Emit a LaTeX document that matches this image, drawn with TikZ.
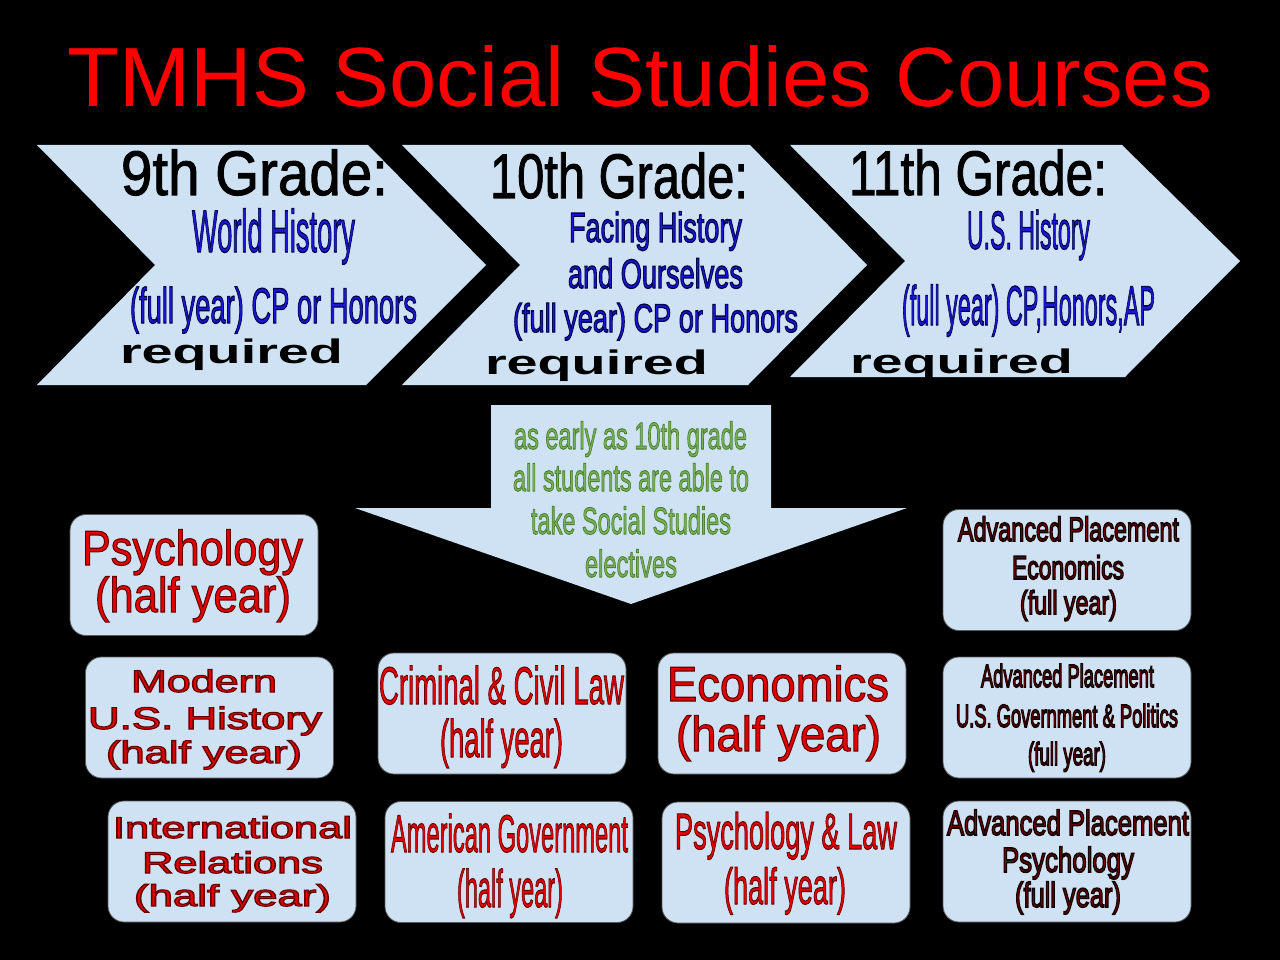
\documentclass[tikz,border=0pt]{standalone}
\usepackage{fontspec}
\setmainfont{Liberation Sans}
\usepackage{graphicx}
\definecolor{lb}{RGB}{207,226,243}
\definecolor{titlered}{RGB}{255,0,0}
\definecolor{bred}{RGB}{228,0,0}
\definecolor{apred}{RGB}{125,0,0}
\definecolor{tblue}{RGB}{25,25,210}
\definecolor{tgreen}{RGB}{122,178,88}
\newcommand\fs[1]{\fontsize{#1}{#1}\selectfont}
\newcommand\hw[2]{\resizebox{#1pt}{\height}{#2}}
\newcommand\olx[4]{{\color{#1}\special{pdf:literal direct 2 Tr #3 w #2 RG}#4\special{pdf:literal direct 0 Tr}}}
\newcommand\rd[1]{\olx{bred}{0.4 0 0}{1.1}{#1}}
\newcommand\ap[1]{\olx{apred}{0.08 0 0}{1.6}{#1}}
\newcommand\bl[1]{\olx{tblue}{0 0 0.3}{1.3}{#1}}
\newcommand\gr[1]{\olx{tgreen}{0.3 0.5 0.2}{1}{#1}}
\newcommand\bk[1]{\olx{black}{0 0 0}{1}{#1}}
\tikzset{
  tl/.style={anchor=base, inner sep=0pt, outer sep=0pt},
  boxn/.style={fill=lb, draw=black!65, line width=0.8pt, rounded corners=16pt,
    minimum width=248pt, minimum height=121pt, inner sep=0pt},
  lbshape/.style={fill=lb},
}
\begin{document}
\begin{tikzpicture}[x=1pt,y=-1pt]
\fill[black] (0,0) rectangle (1280,960);
\useasboundingbox (0,0) rectangle (1280,960);
% title
\node[tl, font=\fs{84}, text=titlered] (title) at (640.5,107) {\hw{1145}{TMHS Social Studies Courses}};
% chevrons
\fill[lbshape] (37,145) -- (368,145) -- (486,265) -- (366,385) -- (37,385) -- (155,265) -- cycle;
\fill[lbshape] (402,145) -- (750,145) -- (867,265) -- (748,385) -- (402,385) -- (520,265) -- cycle;
\fill[lbshape] (790,145) -- (1122,145) -- (1240,261) -- (1125,377) -- (790,377) -- (905,261) -- cycle;
% chevron 1
\node[tl, font=\fs{63}] (g9) at (254.5,195) {\hw{267}{\bk{9th Grade:}}};
\node[tl, font=\fs{60}] (wh) at (273.5,252) {\hw{163}{\bl{World History}}};
\node[tl, font=\fs{50}] (fy1) at (273.5,323) {\hw{287}{\bl{(full year) CP or Honors}}};
\node[tl, font=\fs{34}\bfseries] (rq1) at (231.5,363) {\hw{223}{required}};
% chevron 2
\node[tl, font=\fs{63}] (g10) at (619,198) {\hw{258}{\bk{10th Grade:}}};
\node[tl, font=\fs{42}] (fh) at (655.5,242) {\hw{173}{\bl{Facing History}}};
\node[tl, font=\fs{41}] (ao) at (655.5,288) {\hw{175}{\bl{and Ourselves}}};
\node[tl, font=\fs{40}] (fy2) at (655.5,332) {\hw{285}{\bl{(full year) CP or Honors}}};
\node[tl, font=\fs{34}\bfseries] (rq2) at (596.5,374) {\hw{223}{required}};
% chevron 3
\node[tl, font=\fs{63}] (g11) at (978,195) {\hw{258}{\bk{11th Grade:}}};
\node[tl, font=\fs{54}] (us) at (1028.5,249) {\hw{123}{\bl{U.S. History}}};
\node[tl, font=\fs{56}] (fy3) at (1028.5,325) {\hw{253}{\bl{(full year) CP,Honors,AP}}};
\node[tl, font=\fs{34}\bfseries] (rq3) at (961.5,373) {\hw{223}{required}};
% down arrow
\fill[lbshape] (491,405) -- (771,405) -- (771,508) -- (907,508) -- (631,604) -- (355,508) -- (491,508) -- cycle;
\node[tl, font=\fs{38}] (e1) at (630.5,449) {\hw{233}{\gr{as early as 10th grade}}};
\node[tl, font=\fs{38}] (e2) at (631,491) {\hw{236}{\gr{all students are able to}}};
\node[tl, font=\fs{38}] (e3) at (631,534) {\hw{200}{\gr{take Social Studies}}};
\node[tl, font=\fs{38}] (e4) at (631,577) {\hw{92}{\gr{electives}}};
% boxes
\node[boxn] (bpsy) at (194,575) {};
\node[boxn] (bmod) at (209.5,717.5) {};
\node[boxn] (bint) at (232,861.5) {};
\node[boxn] (bcrim) at (502,713.5) {};
\node[boxn] (bamg) at (509,862) {};
\node[boxn] (beco) at (782,713.5) {};
\node[boxn] (bpl) at (786,862.5) {};
\node[boxn] (bape) at (1067,570) {};
\node[boxn] (bapg) at (1067,717.5) {};
\node[boxn] (bapp) at (1067,861.5) {};
% box texts
\node[tl, font=\fs{49}] (t1a) at (192.5,565) {\hw{221}{\rd{Psychology}}};
\node[tl, font=\fs{49}] (t1b) at (193,612) {\hw{196}{\rd{(half year)}}};
\node[tl, font=\fs{31}] (t2a) at (204,692) {\hw{146}{\rd{Modern}}};
\node[tl, font=\fs{31}] (t2b) at (205,729) {\hw{234}{\rd{U.S. History}}};
\node[tl, font=\fs{31}] (t2c) at (204,763) {\hw{196}{\rd{(half year)}}};
\node[tl, font=\fs{30}] (t3a) at (232.5,838) {\hw{239}{\rd{International}}};
\node[tl, font=\fs{30}] (t3b) at (232.5,873) {\hw{181}{\rd{Relations}}};
\node[tl, font=\fs{30}] (t3c) at (232.5,906) {\hw{197}{\rd{(half year)}}};
\node[tl, font=\fs{53}] (t4a) at (501.5,704) {\hw{245}{\rd{Criminal \& Civil Law}}};
\node[tl, font=\fs{53}] (t4b) at (501.5,757) {\hw{123}{\rd{(half year)}}};
\node[tl, font=\fs{53}] (t5a) at (509.5,852) {\hw{237}{\rd{American Government}}};
\node[tl, font=\fs{53}] (t5b) at (510,907) {\hw{106}{\rd{(half year)}}};
\node[tl, font=\fs{49}] (t6a) at (778,701) {\hw{222}{\rd{Economics}}};
\node[tl, font=\fs{49}] (t6b) at (778.5,751) {\hw{205}{\rd{(half year)}}};
\node[tl, font=\fs{51}] (t7a) at (786,849) {\hw{222}{\rd{Psychology \& Law}}};
\node[tl, font=\fs{51}] (t7b) at (785,904) {\hw{122}{\rd{(half year)}}};
\node[tl, font=\fs{34}] (t8a) at (1068.5,541) {\hw{221}{\ap{Advanced Placement}}};
\node[tl, font=\fs{33}] (t8b) at (1068,579) {\hw{112}{\ap{Economics}}};
\node[tl, font=\fs{33}] (t8c) at (1068.5,614) {\hw{97}{\ap{(full year)}}};
\node[tl, font=\fs{32}] (t9a) at (1067.5,687) {\hw{173}{\ap{Advanced Placement}}};
\node[tl, font=\fs{32}] (t9b) at (1067,727) {\hw{222}{\ap{U.S. Government \& Politics}}};
\node[tl, font=\fs{32}] (t9c) at (1067,765) {\hw{78}{\ap{(full year)}}};
\node[tl, font=\fs{35}] (t10a) at (1068,835) {\hw{242}{\ap{Advanced Placement}}};
\node[tl, font=\fs{35}] (t10b) at (1068,872) {\hw{132}{\ap{Psychology}}};
\node[tl, font=\fs{35}] (t10c) at (1068,907) {\hw{106}{\ap{(full year)}}};
\end{tikzpicture}
\end{document}
